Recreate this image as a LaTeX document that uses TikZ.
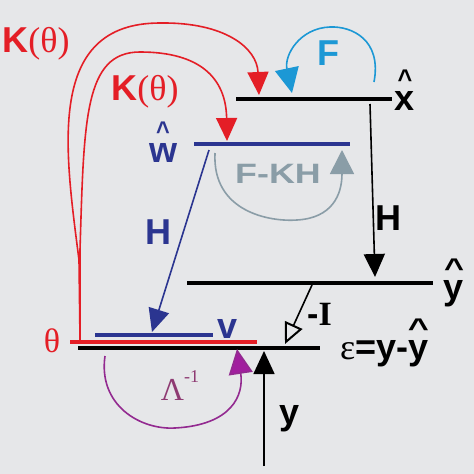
\documentclass[tikz,border=0pt]{standalone}
\usepackage{fontspec}
\setmainfont{Liberation Sans}
\newfontfamily\serfam{Liberation Serif}
\usetikzlibrary{arrows.meta}
\definecolor{bg}{HTML}{E6E7E9}
\definecolor{kred}{HTML}{E41E26}
\definecolor{navy}{HTML}{2B3590}
\definecolor{lblue}{HTML}{1C98D5}
\definecolor{fgray}{HTML}{8A9DA7}
\definecolor{purp}{HTML}{932A90}
\definecolor{purphead}{HTML}{A11E9E}
\definecolor{lam}{HTML}{8E3A72}
\newsavebox\hatletterbox
\newcommand\hatted[2][0.7]{\leavevmode\sbox\hatletterbox{#2}\rlap{\hbox to \wd\hatletterbox{\hss\raisebox{0.6em}{\scalebox{#1}[0.75]{\char"5E}}\hss}}\usebox\hatletterbox}
\begin{document}
\begin{tikzpicture}[x=1pt,y=-1pt,
  bar/.style={line width=3.6pt},
  big/.style={font=\fontsize{36}{36}\selectfont\bfseries, inner sep=0pt, anchor=base},
  mid/.style={font=\fontsize{28}{28}\selectfont\bfseries, inner sep=0pt, anchor=base},
  conn/.style={line width=1.6pt},
  head/.style={-{Triangle[length=23pt,width=21pt]}}
]
\fill[bg] (0,0) rectangle (474,474);
\useasboundingbox (0,0) rectangle (474,474);

% horizontal bars
\draw[bar] (236,99) coordinate (xL) -- (392,99) coordinate (xR);
\draw[bar,navy] (194,144) coordinate (wL) -- (350,144) coordinate (wR);
\draw[bar] (187,283) coordinate (yL) -- (433,283) coordinate (yR);
\draw[bar,navy] (95,335) coordinate (vL) -- (213,335) coordinate (vR);
\draw[bar,kred] (70,342) coordinate (tL) -- (257,342) coordinate (tR);
\draw[bar] (78,348) coordinate (eL) -- (320,348) coordinate (eR);

% connector endpoints
\coordinate (kS) at (80,340);
\coordinate (kO) at (259,95);
\coordinate (kI) at (227,141);
\coordinate (fS) at (374,82);
\coordinate (fE) at (292,93);
\coordinate (gS) at (215,153);
\coordinate (gE) at (342,150);
\coordinate (hbS) at (209,150);
\coordinate (hbE) at (152,332);
\coordinate (hkS) at (370,104);
\coordinate (hkE) at (375,277);
\coordinate (iS) at (312,285);
\coordinate (iE) at (285,344);
\coordinate (yS) at (264,466);
\coordinate (yE) at (264,351);
\coordinate (lS) at (105,356);
\coordinate (lE) at (237,349);

% K(theta) curves
\draw[conn,kred,head] (kS) -- (79,260) .. controls (65,150) and (45,23) .. (160,23) .. controls (225,22) and (257,48) .. (kO);
\draw[conn,kred,head] (kS) -- (80,250) .. controls (84,120) and (84,52) .. (140,52) .. controls (200,52) and (226,78) .. (kI);
% F
\draw[conn,lblue,-{Triangle[length=25pt,width=24pt]}] (fS) .. controls (382,40) and (352,26) .. (330,27) .. controls (300,28) and (284,55) .. (fE);
% F-KH
\draw[conn,fgray,-{Triangle[length=24pt,width=24pt]}] (gS) .. controls (212,212) and (270,222) .. (297,220) .. controls (332,218) and (342,195) .. (gE);
% H lines
\draw[conn,navy,head] (hbS) -- (hbE);
\draw[conn,head] (hkS) -- (hkE);
% -I
\draw[conn,-{Triangle[open,length=21pt,width=19pt,line width=2pt]}] (iS) -- (iE);
% y
\draw[conn,head] (yS) -- (yE);
% Lambda^-1
\draw[conn,purp,-{Triangle[length=25pt,width=24pt,fill=purphead]}] (lS) .. controls (98,405) and (140,430) .. (175,428) .. controls (232,425) and (244,395) .. (lE);

% labels
\node[big,kred] (k1) at (36,52) {K{\mdseries\serfam(θ)}};
\node[big,kred] (k2) at (145,100) {K{\mdseries\serfam(θ)}};
\node[big,lblue] (F) at (328,65) {F};
\node[big] (xh) at (405,110) {\hatted{x}};
\node[big,navy] (wh) at (163,162) {\hatted[0.65]{w}};
\node[mid,fgray,xscale=1.28] (fkh) at (278,183) {F-KH};
\node[big,navy] (h1) at (158,244) {H};
\node[big] (h2) at (388,230) {H};
\node[big] (yh) at (454,299) {\hatted[0.95]{y}};
\node[big,navy] (v) at (228,338) {v};
\node[font=\fontsize{34}{34}\selectfont\serfam, kred, inner sep=0pt, anchor=base] (th) at (52,352) {θ};
\node[font=\fontsize{34}{34}\selectfont\bfseries, inner sep=0pt, anchor=base west] (mI) at (307,325) {-{\serfam I}};
\node[big,anchor=base west] (eps) at (340,359) {{\mdseries\serfam ε}=y-\hatted[1]{y}};
\node[big] (y) at (290,424) {y};
\node[font=\fontsize{32}{32}\selectfont\serfam, lam, inner sep=0pt, anchor=base] (lam) at (180,400) {Λ\raisebox{0.55em}{\fontsize{18}{18}\selectfont -1}};
\end{tikzpicture}
\end{document}
